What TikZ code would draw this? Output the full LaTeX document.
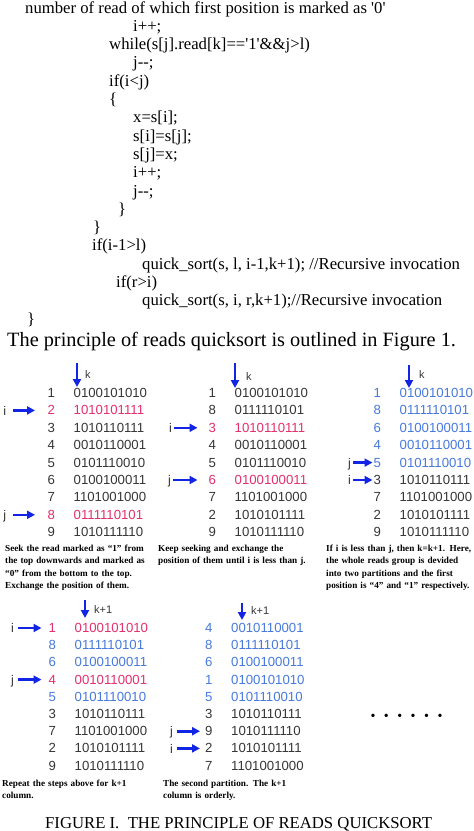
\documentclass[tikz,border=0pt]{standalone}
\usepackage{fontspec}
\setmainfont{Liberation Serif}
\setsansfont{Liberation Sans}
\newfontfamily\codefont{Liberation Serif}
\usetikzlibrary{arrows.meta}
\definecolor{readGray}{RGB}{55,55,55}
\definecolor{readPink}{RGB}{228,48,108}
\definecolor{readBlue}{RGB}{72,122,222}
\definecolor{ptrBlue}{RGB}{18,36,228}
\newcommand{\rd}[2]{\makebox[9pt]{#1}\hspace{18pt}#2}
\newcommand{\capline}[1]{\makebox[\hsize][s]{#1}}

\begin{document}
\begin{tikzpicture}[x=1pt, y=-1pt,
    code/.style={anchor=base west, inner sep=0pt, font=\codefont\fontsize{16.7}{18}\selectfont},
    rowtxt/.style={anchor=west, inner sep=0pt, text=readGray,
                   font=\sffamily\fontsize{13.2}{15}\selectfont},
    ptrlbl/.style={anchor=base east, inner sep=0pt, text=readGray,
                   font=\sffamily\fontsize{12.5}{14}\selectfont},
    collbl/.style={anchor=west, inner sep=0pt, text=readGray,
                   font=\sffamily\fontsize{11}{13}\selectfont},
    ptr/.style={-{Triangle[length=8pt, width=8pt]}, line width=2.6pt, ptrBlue},
    note/.style={anchor=north west, inner sep=0pt, align=left,
                 font=\bfseries\fontsize{9.2}{12.6}\selectfont}
  ]
  \fill[white] (0,0) rectangle (474,831);
  \useasboundingbox (0,0) rectangle (474,831);

  % code fragment
  \node[code] (c0)  at (25,13)    {number of read of which first position is marked as '0'};
  \node[code] (c1)  at (133,31.3) {i++;};
  \node[code] (c2)  at (109,49.6) {while(s[j].read[k]=='1'\&\&j>l)};
  \node[code] (c3)  at (133,67.9) {j--;};
  \node[code] (c4)  at (109,86.2) {if(i<j)};
  \node[code] (c5)  at (109,104.5) {\{};
  \node[code] (c6)  at (133,122.8) {x=s[i];};
  \node[code] (c7)  at (133,141.1) {s[i]=s[j];};
  \node[code] (c8)  at (133,159.4) {s[j]=x;};
  \node[code] (c9)  at (133,177.7) {i++;};
  \node[code] (c10) at (133,196)   {j--;};
  \node[code] (c11) at (118,214.3) {\}};
  \node[code] (c12) at (93,232.6)  {\}};
  \node[code] (c13) at (92,250.9)  {if(i-1>l)};
  \node[code] (c14) at (142,269.2) {quick\_sort(s, l, i-1,k+1); //Recursive invocation};
  \node[code] (c15) at (116,287.5) {if(r>i)};
  \node[code] (c16) at (142,305.8) {quick\_sort(s, i, r,k+1);//Recursive invocation};
  \node[code] (c17) at (27,324.1)  {\}};
  \node[anchor=base west, inner sep=0pt, font=\fontsize{20.3}{24}\selectfont] (para)
    at (7,346) {The principle of reads quicksort is outlined in Figure 1.};

  % panel 1
  \coordinate (k1top) at (77,363);
  \coordinate (k1tip) at (77,387);
  \draw[ptr] (k1top) -- (k1tip);
  \node[collbl] (k1) at (85,375) {k};
  \node[rowtxt]                 (p1r1) at (46.5,393)   {\rd{1}{0100101010}};
  \node[rowtxt, text=readPink]  (p1r2) at (46.5,410.4) {\rd{2}{1010101111}};
  \node[rowtxt]                 (p1r3) at (46.5,427.8) {\rd{3}{1010110111}};
  \node[rowtxt]                 (p1r4) at (46.5,445.2) {\rd{4}{0010110001}};
  \node[rowtxt]                 (p1r5) at (46.5,462.6) {\rd{5}{0101110010}};
  \node[rowtxt]                 (p1r6) at (46.5,480)   {\rd{6}{0100100011}};
  \node[rowtxt]                 (p1r7) at (46.5,497.4) {\rd{7}{1101001000}};
  \node[rowtxt, text=readPink]  (p1r8) at (46.5,514.8) {\rd{8}{0111110101}};
  \node[rowtxt]                 (p1r9) at (46.5,532.2) {\rd{9}{1010111110}};
  \node[ptrlbl] (p1i) at (6.3,415.1) {i};
  \node[ptrlbl] (p1j) at (6.3,519.5) {j};
  \draw[ptr, shorten <=6.5pt, shorten >=11.5pt] (p1r2.west -| p1i.east) -- (p1r2.west);
  \draw[ptr, shorten <=6.5pt, shorten >=11.5pt] (p1r8.west -| p1j.east) -- (p1r8.west);
  \node[note, text width=145pt] (n1) at (5,544.5)
    {\capline{Seek the read marked as “1” from}\\
     \capline{the top downwards and marked as}\\
     \capline{“0” from the bottom to the top.}\\
     Exchange the position of them.};

  % panel 2
  \coordinate (k2top) at (235,363);
  \coordinate (k2tip) at (235,388);
  \draw[ptr] (k2top) -- (k2tip);
  \node[collbl] (k2) at (246,377) {k};
  \node[rowtxt]                 (p2r1) at (207.5,393)   {\rd{1}{0100101010}};
  \node[rowtxt]                 (p2r2) at (207.5,410.4) {\rd{8}{0111110101}};
  \node[rowtxt, text=readPink]  (p2r3) at (207.5,427.8) {\rd{3}{1010110111}};
  \node[rowtxt]                 (p2r4) at (207.5,445.2) {\rd{4}{0010110001}};
  \node[rowtxt]                 (p2r5) at (207.5,462.6) {\rd{5}{0101110010}};
  \node[rowtxt, text=readPink]  (p2r6) at (207.5,480)   {\rd{6}{0100100011}};
  \node[rowtxt]                 (p2r7) at (207.5,497.4) {\rd{7}{1101001000}};
  \node[rowtxt]                 (p2r8) at (207.5,514.8) {\rd{2}{1010101111}};
  \node[rowtxt]                 (p2r9) at (207.5,532.2) {\rd{9}{1010111110}};
  \node[ptrlbl] (p2i) at (172,432.5) {i};
  \node[ptrlbl] (p2j) at (171,484.7) {j};
  \draw[ptr, shorten <=2pt, shorten >=10pt] (p2r3.west -| p2i.east) -- (p2r3.west);
  \draw[ptr, shorten <=2pt, shorten >=10pt] (p2r6.west -| p2j.east) -- (p2r6.west);
  \node[note, text width=149pt] (n2) at (158,544.5)
    {\capline{Keep seeking and exchange the}\\
     \capline{position of them until i is less than j.}};

  % panel 3
  \coordinate (k3top) at (409,365);
  \coordinate (k3tip) at (409,388);
  \draw[ptr] (k3top) -- (k3tip);
  \node[collbl] (k3) at (419,375) {k};
  \node[rowtxt, text=readBlue]  (p3r1) at (372.5,393)   {\rd{1}{0100101010}};
  \node[rowtxt, text=readBlue]  (p3r2) at (372.5,410.4) {\rd{8}{0111110101}};
  \node[rowtxt, text=readBlue]  (p3r3) at (372.5,427.8) {\rd{6}{0100100011}};
  \node[rowtxt, text=readBlue]  (p3r4) at (372.5,445.2) {\rd{4}{0010110001}};
  \node[rowtxt, text=readBlue]  (p3r5) at (372.5,462.6) {\rd{5}{0101110010}};
  \node[rowtxt]                 (p3r6) at (372.5,480)   {\rd{3}{1010110111}};
  \node[rowtxt]                 (p3r7) at (372.5,497.4) {\rd{7}{1101001000}};
  \node[rowtxt]                 (p3r8) at (372.5,514.8) {\rd{2}{1010101111}};
  \node[rowtxt]                 (p3r9) at (372.5,532.2) {\rd{9}{1010111110}};
  \node[ptrlbl] (p3j) at (351,467.3) {j};
  \node[ptrlbl] (p3i) at (351,484.7) {i};
  \draw[ptr, shorten <=2pt, shorten >=0pt] (p3r5.west -| p3j.east) -- (p3r5.west);
  \draw[ptr, shorten <=2pt, shorten >=0pt] (p3r6.west -| p3i.east) -- (p3r6.west);
  \node[note, text width=148pt] (n3) at (326,544.5)
    {\capline{If i is less than j, then k=k+1. Here,}\\
     \capline{the whole reads group is devided}\\
     \capline{into two partitions and the first}\\
     position is “4” and “1” respectively.};

  % panel 4
  \coordinate (k4top) at (85,600);
  \coordinate (k4tip) at (85,618);
  \draw[ptr] (k4top) -- (k4tip);
  \node[collbl] (k4) at (94,610) {k+1};
  \node[rowtxt, text=readPink]  (p4r1) at (47.5,628)   {\rd{1}{0100101010}};
  \node[rowtxt, text=readBlue]  (p4r2) at (47.5,645.2) {\rd{8}{0111110101}};
  \node[rowtxt, text=readBlue]  (p4r3) at (47.5,662.4) {\rd{6}{0100100011}};
  \node[rowtxt, text=readPink]  (p4r4) at (47.5,679.6) {\rd{4}{0010110001}};
  \node[rowtxt, text=readBlue]  (p4r5) at (47.5,696.8) {\rd{5}{0101110010}};
  \node[rowtxt]                 (p4r6) at (47.5,714)   {\rd{3}{1010110111}};
  \node[rowtxt]                 (p4r7) at (47.5,731.2) {\rd{7}{1101001000}};
  \node[rowtxt]                 (p4r8) at (47.5,748.4) {\rd{2}{1010101111}};
  \node[rowtxt]                 (p4r9) at (47.5,765.6) {\rd{9}{1010111110}};
  \node[ptrlbl] (p4i) at (14,632.7) {i};
  \node[ptrlbl] (p4j) at (14,684.3) {j};
  \draw[ptr, shorten <=4pt, shorten >=6pt] (p4r1.west -| p4i.east) -- (p4r1.west);
  \draw[ptr, shorten <=4pt, shorten >=6pt] (p4r4.west -| p4j.east) -- (p4r4.west);
  \node[note, text width=146pt] (n4) at (2,779.5)
    {\capline{Repeat the steps above for k+1}\\
     column.};

  % panel 5
  \coordinate (k5top) at (242,603);
  \coordinate (k5tip) at (242,620);
  \draw[ptr] (k5top) -- (k5tip);
  \node[collbl] (k5) at (251,611) {k+1};
  \node[rowtxt, text=readBlue]  (p5r1) at (204,628)   {\rd{4}{0010110001}};
  \node[rowtxt, text=readBlue]  (p5r2) at (204,645.2) {\rd{8}{0111110101}};
  \node[rowtxt, text=readBlue]  (p5r3) at (204,662.4) {\rd{6}{0100100011}};
  \node[rowtxt, text=readBlue]  (p5r4) at (204,679.6) {\rd{1}{0100101010}};
  \node[rowtxt, text=readBlue]  (p5r5) at (204,696.8) {\rd{5}{0101110010}};
  \node[rowtxt]                 (p5r6) at (204,714)   {\rd{3}{1010110111}};
  \node[rowtxt]                 (p5r7) at (204,731.2) {\rd{9}{1010111110}};
  \node[rowtxt]                 (p5r8) at (204,748.4) {\rd{2}{1010101111}};
  \node[rowtxt]                 (p5r9) at (204,765.6) {\rd{7}{1101001000}};
  \node[ptrlbl] (p5j) at (173,735.9) {j};
  \node[ptrlbl] (p5i) at (173,753.1) {i};
  \draw[ptr, shorten <=4pt, shorten >=4pt] (p5r7.west -| p5j.east) -- (p5r7.west);
  \draw[ptr, shorten <=4pt, shorten >=4pt] (p5r8.west -| p5i.east) -- (p5r8.west);
  \node[note, text width=145pt] (n5) at (163,779.5)
    {\capline{The second partition. The k+1}\\
     column is orderly.};

  % and so on
  \node[inner sep=0pt, font=\fontsize{14}{16}\selectfont] (dots) at (406.5,717)
    {\textbullet\hspace{8.5pt}\textbullet\hspace{8.5pt}\textbullet\hspace{8.5pt}%
     \textbullet\hspace{8.5pt}\textbullet\hspace{8.5pt}\textbullet};

  \node[anchor=base west, inner sep=0pt, font=\fontsize{16.7}{20}\selectfont] (figcap)
    at (45,828) {FIGURE I.\ \ THE PRINCIPLE OF READS QUICKSORT};
\end{tikzpicture}
\end{document}
